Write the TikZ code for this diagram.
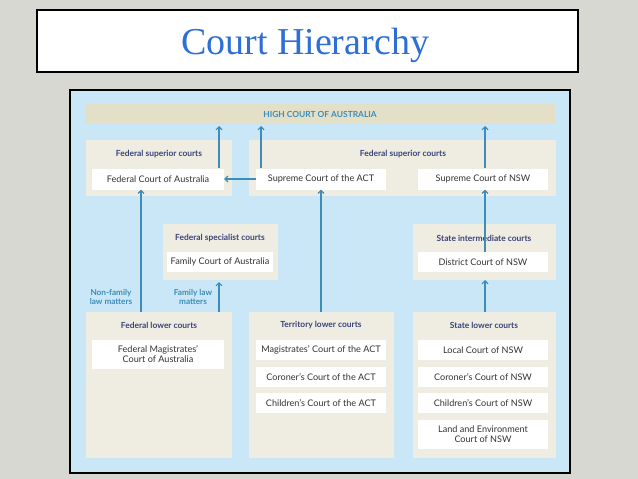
\documentclass[tikz,border=0pt]{standalone}
\usepackage{fontspec}
\setsansfont{Lato}
\setmainfont{Liberation Serif}
\usetikzlibrary{arrows.meta}
\definecolor{slidegray}{HTML}{D8D8D2}
\definecolor{panelblue}{HTML}{C9E7F6}
\definecolor{groupbeige}{HTML}{EFECE1}
\definecolor{highbeige}{HTML}{E4E0C8}
\definecolor{linkblue}{HTML}{3D8DB8}
\definecolor{headnavy}{HTML}{3B4379}
\definecolor{titleblue}{HTML}{2E6FD6}
\tikzset{
  group/.style={fill=groupbeige, draw=none},
  court/.style={fill=white, draw=none, font=\sffamily\fontsize{9.1}{10}\selectfont, text=black!80, align=center},
  head/.style={font=\sffamily\bfseries\fontsize{8.4}{9.5}\selectfont, text=headnavy},
  note/.style={font=\sffamily\bfseries\fontsize{8.2}{9.5}\selectfont, text=linkblue, align=center},
  link/.style={draw=linkblue, line width=1.1pt, -{Straight Barb[length=3pt,width=6pt]}}
}
\begin{document}
\begin{tikzpicture}[x=1pt, y=-1pt]
            \useasboundingbox (0,0) rectangle (638,479);
            \fill[slidegray] (0,0) rectangle (638,479);

            % title
            \draw[fill=white, line width=1.2pt] (37,10) rectangle (578,72);
            \node (title) [text=titleblue, font=\fontsize{38}{40}\selectfont] at (305,45) {Court Hierarchy};

            % panel
            \draw[fill=panelblue, line width=1.4pt] (70,90) rectangle (570,473);
            \fill[highbeige] (85,104) rectangle (555,124);
            \node (high) [font=\sffamily\bfseries\fontsize{8.4}{9.5}\selectfont, text=linkblue] at (320,114) {HIGH COURT OF AUSTRALIA};

            % upper groups
            \fill[group] (86,140) rectangle (232,196);
            \node (fsup) [head] at (159,154) {Federal superior courts};
            \fill[group] (249,140) rectangle (556,196);
            \node (ssup) [head] at (403,154) {Federal superior courts};
            \node (fca) [court, minimum width=132pt, minimum height=21pt] at (158,179) {Federal Court of Australia};
            \node (sact) [court, minimum width=130pt, minimum height=21pt] at (321,179) {Supreme Court of the ACT};
            \node (snsw) [court, minimum width=130pt, minimum height=21pt] at (483,179) {Supreme Court of NSW};

            % middle groups
            \fill[group] (163,224) rectangle (278,280);
            \node (fspec) [head] at (220,238) {Federal specialist courts};
            \node (fam) [court, minimum width=106pt, minimum height=20pt] at (220,262) {Family Court of Australia};
            \fill[group] (413,224) rectangle (556,280);
            \node (sint) [head] at (484,238) {State intermediate courts};
            \node (dist) [court, minimum width=130pt, minimum height=20pt] at (483,262) {District Court of NSW};

            % lower groups
            \fill[group] (86,312) rectangle (232,458);
            \node (flow) [head] at (159,325) {Federal lower courts};
            \node (fmag) [court, minimum width=132pt, minimum height=29pt] at (158,354) {Federal Magistrates'\\Court of Australia};
            \fill[group] (249,312) rectangle (394,458);
            \node (tlow) [head] at (321,325) {Territory lower courts};
            \node (tmag) [court, minimum width=130pt, minimum height=20pt] at (321,350) {Magistrates' Court of the ACT};
            \node (tcor) [court, minimum width=130pt, minimum height=20pt] at (321,377) {Coroner's Court of the ACT};
            \node (tchi) [court, minimum width=130pt, minimum height=20pt] at (321,403) {Children's Court of the ACT};
            \fill[group] (413,312) rectangle (556,458);
            \node (slow) [head] at (484,325) {State lower courts};
            \node (sloc) [court, minimum width=130pt, minimum height=20pt] at (483,350) {Local Court of NSW};
            \node (scor) [court, minimum width=130pt, minimum height=20pt] at (483,377) {Coroner's Court of NSW};
            \node (schi) [court, minimum width=130pt, minimum height=20pt] at (483,403) {Children's Court of NSW};
            \node (sland) [court, minimum width=130pt, minimum height=29pt] at (483,434) {Land and Environment\\Court of NSW};

            \coordinate (flowtop) at (141,312);
            \coordinate (famtop) at (219,312);
            \coordinate (tlowtop) at (321,312);
            \coordinate (slowtop) at (485,312);
            \coordinate (sdisttop) at (485,280);

            \node (nonfam) [note] at (111,297) {Non-family\\law matters};
            \node (famlaw) [note] at (193,297) {Family law\\matters};

            % appeals
            \draw[link] (fca.north -| 219,0) -- (219,126);
            \draw[link] (sact.north -| 261,0) -- (261,126);
            \draw[link] (snsw.north -| 485,0) -- (485,126);
            \draw[link] (sact.west) -- (fca.east);
            \draw[link] (flowtop) -- (fca.south -| flowtop);
            \draw[link] (famtop) -- (219,282);
            \draw[link] (tlowtop) -- (sact.south -| tlowtop);
            \draw[link] (dist.north -| 485,0) -- (snsw.south -| 485,0);
            \draw[link] (slowtop) -- (sdisttop);
\end{tikzpicture}
\end{document}
